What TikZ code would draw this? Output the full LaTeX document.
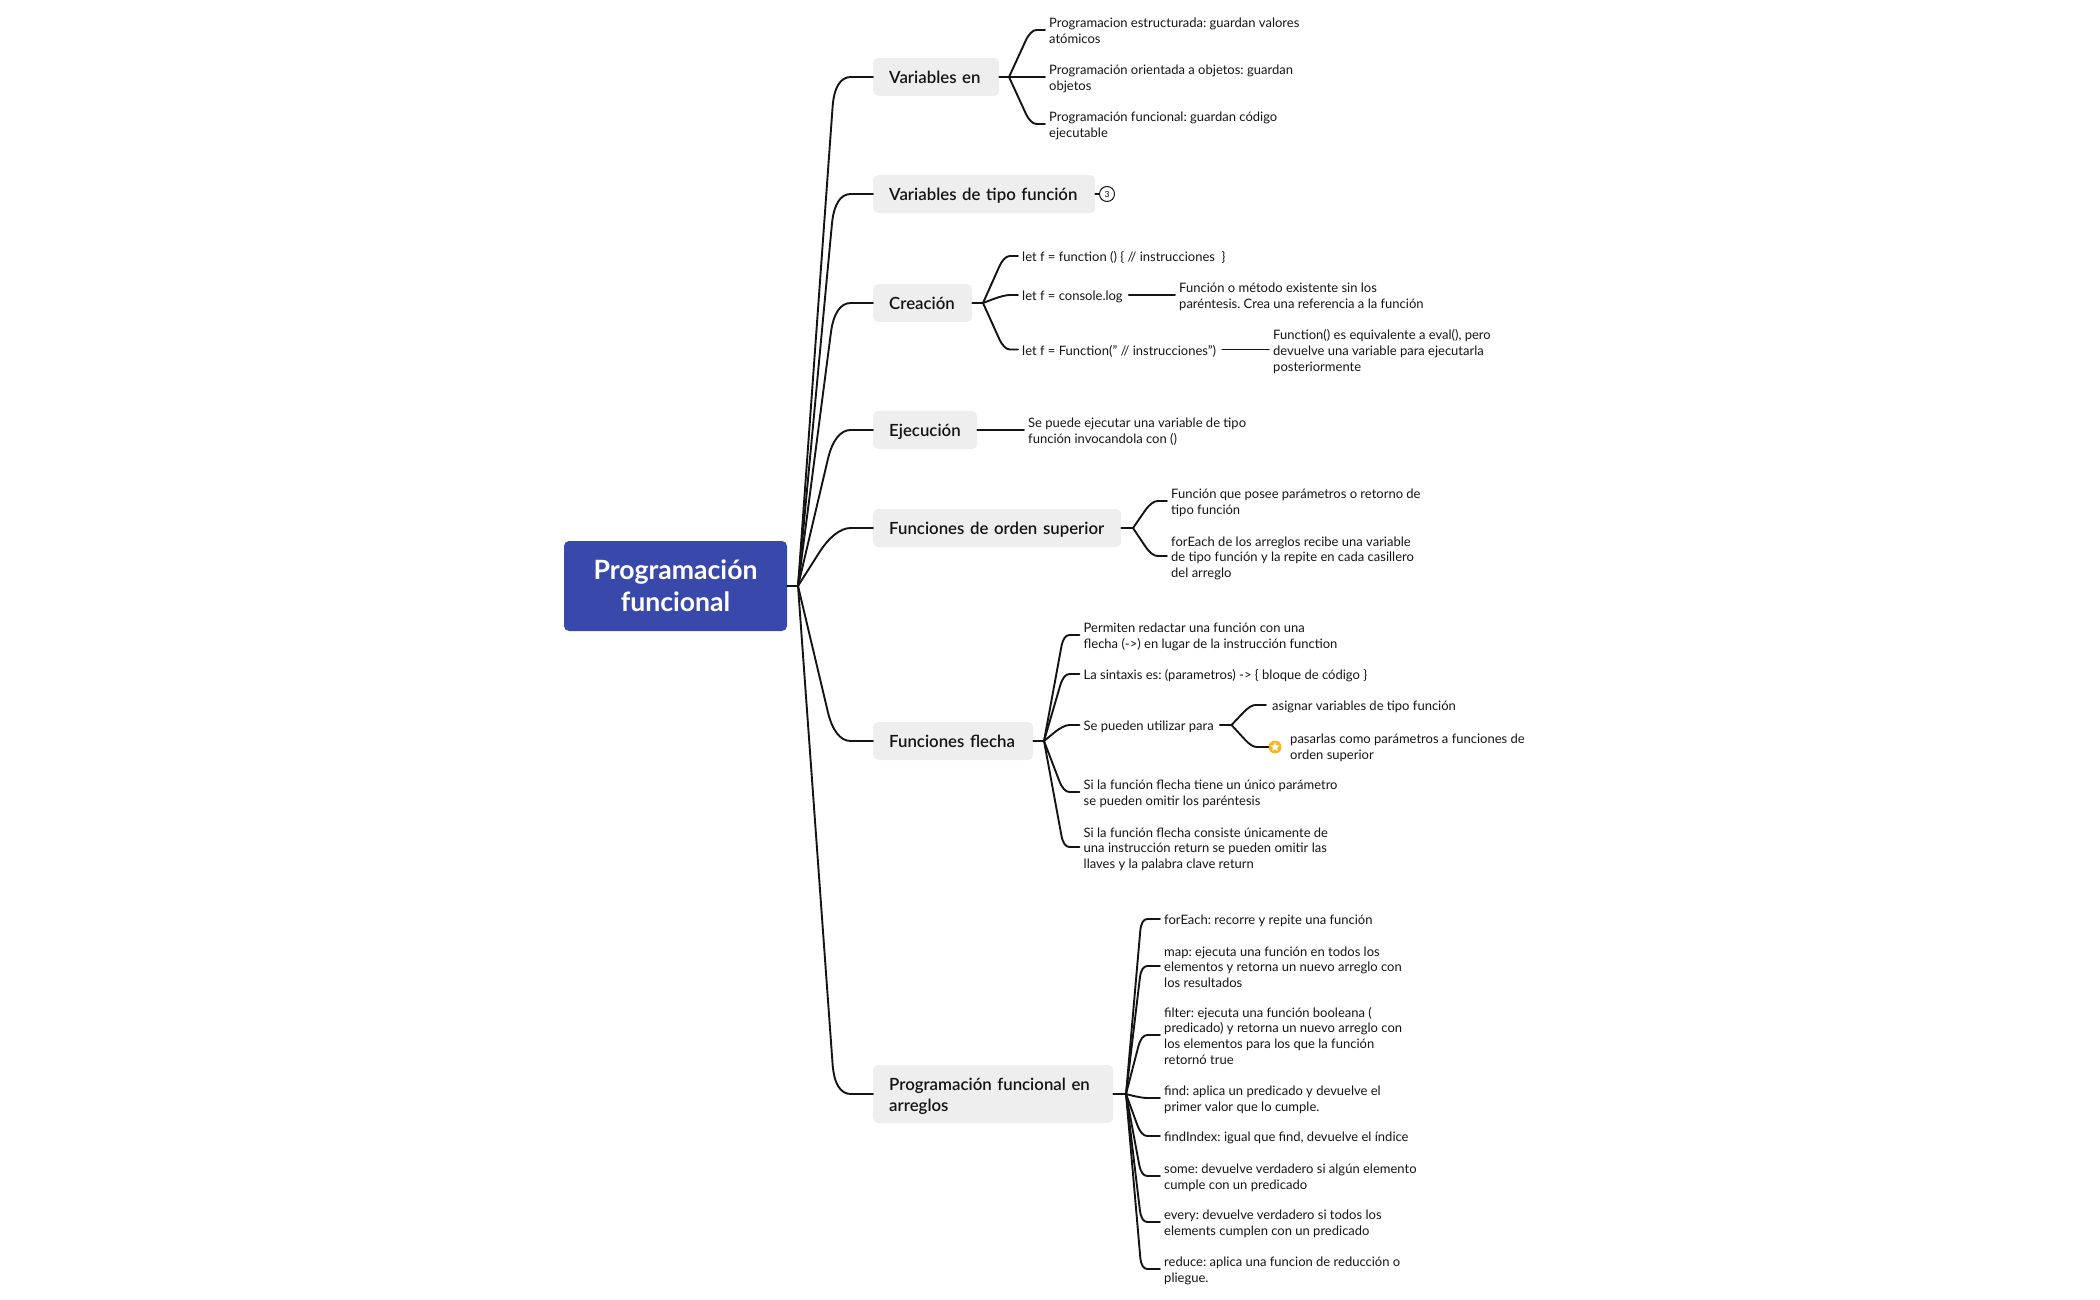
\documentclass[tikz,border=0pt]{standalone}
\usepackage{fontspec}
\setmainfont{Lato}
\newfontfamily\mediumfont{Lato Semibold}
\frenchspacing
\usetikzlibrary{calc,shapes.geometric}
\definecolor{rootblue}{HTML}{3949AB}
\definecolor{topicgrey}{HTML}{EEEEEE}
\definecolor{inkblack}{HTML}{141414}
\definecolor{staramber}{HTML}{FBB41A}
\tikzset{
	rootbox/.style={fill=rootblue, rounded corners=5pt, text=white, align=center, minimum width=223pt, minimum height=90pt, inner sep=0pt, font=\fontsize{26.6}{32}\selectfont\bfseries},
	topicbox/.style={anchor=west, fill=topicgrey, rounded corners=5pt, minimum height=38pt, inner xsep=16pt, inner ysep=0pt, align=left, text depth=4pt, text height=16.4pt, font=\fontsize{16.8}{21}\mediumfont, text=inkblack},
	leaftext/.style={anchor=west, align=left, inner xsep=4pt, inner ysep=0pt, text height={(#1-1)*15.7+14.6}, text depth=3pt, font=\fontsize{13}{15.7}\selectfont, text=inkblack},
	leaftext/.default=1,
	link/.style={draw=inkblack, line width=1.9pt, line cap=round},
}
% fan line: #1 start, #2 end, #3 share of the width where it bends, #4 bend size, #5 flat part
\def\fanline#1#2#3#4#5{\draw[link] let \p1=(#1), \p2=(#2), \n1={\x1+#3*(\x2-\x1)} in
	(#1) -- ($(\n1,\y2)!#4pt!(#1)$) .. controls ($(\n1,\y2)!0.35*#4pt!(#1)$) and (\n1+0.35*#5pt,\y2) .. (\n1+#5pt,\y2) -- (#2);}
\begin{document}
\begin{tikzpicture}[x=1pt,y=-1pt]
	\useasboundingbox (0,0) rectangle (2100,1300);
	%%%%% root %%%%%
	\node[rootbox] (root) at (675.5,586) {Programación\hspace{7pt}\\funcional};
	\coordinate (roothub) at (798,586);
	\draw[link] (root.east) -- (roothub);
	
	%%%%% topics %%%%%
	\node[topicbox, text width=94pt] (varen) at (873,77) {\mbox{Variables en}};
	\node[topicbox, text width=190pt] (vartipo) at (873,194) {\mbox{Variables de tipo función}};
	\node[topicbox, text width=67pt] (creacion) at (873,303) {\mbox{Creación}};
	\node[topicbox, text width=72pt] (ejecucion) at (873,430) {\mbox{Ejecución}};
	\node[topicbox, text width=216pt] (orden) at (873,528) {\mbox{Funciones de orden superior}};
	\node[topicbox, text width=128pt] (flecha) at (873,741) {\mbox{Funciones flecha}};
	\node[topicbox, text width=208pt, minimum height=58pt, text height=13pt, text depth=21pt] (arreglos) at (873,1094) {\mbox{Programación funcional en}\\arreglos};
	\foreach \topic in {varen,vartipo,creacion,ejecucion,orden,flecha,arreglos} {
		\fanline{roothub}{\topic.west}{0.49}{30}{16}
	}
	
	%%%%% Variables en %%%%%
	\coordinate (varenhub) at (1009,77);
	\draw[link] (varen.east) -- (varenhub);
	\node[leaftext=2] (varen1) at (1045,30) {Programacion estructurada: guardan valores\\atómicos};
	\node[leaftext=2] (varen2) at (1045,77) {Programación orientada a objetos: guardan\\objetos};
	\node[leaftext=2] (varen3) at (1045,124) {Programación funcional: guardan código\\ejecutable};
	\foreach \leaf in {varen1,varen2,varen3} {
		\fanline{varenhub}{\leaf.west}{0.6}{12}{6}
	}
	
	%%%%% Variables de tipo funcion %%%%%
	\node[circle, draw=inkblack, line width=1pt, minimum size=15pt, inner sep=0pt, font=\fontsize{8.5}{10}\selectfont] (tres) at (1107,194) {3};
	\draw[link] (vartipo.east) -- (tres.west);
	
	%%%%% Creacion %%%%%
	\coordinate (creahub) at (983,303);
	\draw[link] (creacion.east) -- (creahub);
	\node[leaftext] (crea1) at (1018,256) {let f = function () \{ // instrucciones ~\}};
	\node[leaftext] (crea2) at (1018,295) {let f = console.log};
	\node[leaftext] (crea3) at (1018,349.5) {let f = Function(" // instrucciones")};
	\foreach \leaf in {crea1,crea2,crea3} {
		\fanline{creahub}{\leaf.west}{0.6}{12}{6}
	}
	\node[leaftext=2] (crea2b) at (1175,295) {Función o método existente sin los\\paréntesis. Crea una referencia a la función};
	\draw[link, shorten <=2pt] (crea2.east) -- (crea2b.west);
	\node[leaftext=3] (crea3b) at (1269,349.5) {Function() es equivalente a eval(), pero\\devuelve una variable para ejecutarla\\posteriormente};
	\draw[link, shorten <=2pt] (crea3.east) -- (crea3b.west);
	
	%%%%% Ejecucion %%%%%
	\node[leaftext=2] (ejec1) at (1024,430) {Se puede ejecutar una variable de tipo\\función invocandola con ()};
	\draw[link] (ejecucion.east) -- (ejec1.west);
	
	%%%%% Funciones de orden superior %%%%%
	\coordinate (ordenhub) at (1133,528);
	\draw[link] (orden.east) -- (ordenhub);
	\node[leaftext=2] (orden1) at (1167,501) {Función que posee parámetros o retorno de\\tipo función};
	\node[leaftext=3] (orden2) at (1167,556) {forEach de los arreglos recibe una variable\\de tipo función y la repite en cada casillero\\del arreglo};
	\foreach \leaf in {orden1,orden2} {
		\fanline{ordenhub}{\leaf.west}{0.55}{12}{6}
	}
	
	%%%%% Funciones flecha %%%%%
	\coordinate (flechahub) at (1044,741);
	\draw[link] (flecha.east) -- (flechahub);
	\node[leaftext=2] (flecha1) at (1079.5,635) {Permiten redactar una función con una\\flecha (->) en lugar de la instrucción function};
	\node[leaftext] (flecha2) at (1079.5,674) {La sintaxis es: (parametros) -> \{ bloque de código \}};
	\node[leaftext] (flecha3) at (1079.5,725) {Se pueden utilizar para};
	\node[leaftext=2] (flecha4) at (1079.5,792) {Si la función flecha tiene un único parámetro\\se pueden omitir los paréntesis};
	\node[leaftext=3] (flecha5) at (1079.5,847) {Si la función flecha consiste únicamente de\\una instrucción return se pueden omitir las\\llaves y la palabra clave return};
	\foreach \leaf in {flecha1,flecha2,flecha3,flecha4,flecha5} {
		\fanline{flechahub}{\leaf.west}{0.55}{12}{6}
	}
	\coordinate (parahub) at (1231.5,725);
	\draw[link, shorten <=2pt] (flecha3.east) -- (parahub);
	\node[leaftext, inner xsep=6pt] (para1) at (1266,705) {asignar variables de tipo función};
	\node[circle, fill=staramber, minimum size=13pt, inner sep=0pt] (paraicon) at (1275,747) {};
	\node[star, star points=5, star point ratio=2.2, fill=white, minimum size=9.5pt, inner sep=0pt] (parastar) at (paraicon) {};
	\node[leaftext=2, inner xsep=0pt] (para2) at (1290,746) {pasarlas como parámetros a funciones de\\orden superior};
	\fanline{parahub}{para1.west}{0.55}{10}{5}
	\fanline{parahub}{paraicon.west}{0.55}{10}{5}
	
	%%%%% Programacion funcional en arreglos %%%%%
	\coordinate (arrhub) at (1126,1094);
	\draw[link] (arreglos.east) -- (arrhub);
	\node[leaftext] (arr1) at (1160,919) {forEach: recorre y repite una función};
	\node[leaftext=3] (arr2) at (1160,966) {map: ejecuta una función en todos los\\elementos y retorna un nuevo arreglo con\\los resultados};
	\node[leaftext=4] (arr3) at (1160,1035) {filter: ejecuta una función booleana (\\predicado) y retorna un nuevo arreglo con\\los elementos para los que la función\\retornó true};
	\node[leaftext=2] (arr4) at (1160,1098) {find: aplica un predicado y devuelve el\\primer valor que lo cumple.};
	\node[leaftext] (arr5) at (1160,1136) {findIndex: igual que find, devuelve el índice};
	\node[leaftext=2] (arr6) at (1160,1176) {some: devuelve verdadero si algún elemento\\cumple con un predicado};
	\node[leaftext=2] (arr7) at (1160,1222) {every: devuelve verdadero si todos los\\elements cumplen con un predicado};
	\node[leaftext=2] (arr8) at (1160,1269) {reduce: aplica una funcion de reducción o\\pliegue.};
	\foreach \leaf in {arr1,arr2,arr3,arr4,arr5,arr6,arr7,arr8} {
		\fanline{arrhub}{\leaf.west}{0.45}{12}{6}
	}
\end{tikzpicture}
\end{document}
